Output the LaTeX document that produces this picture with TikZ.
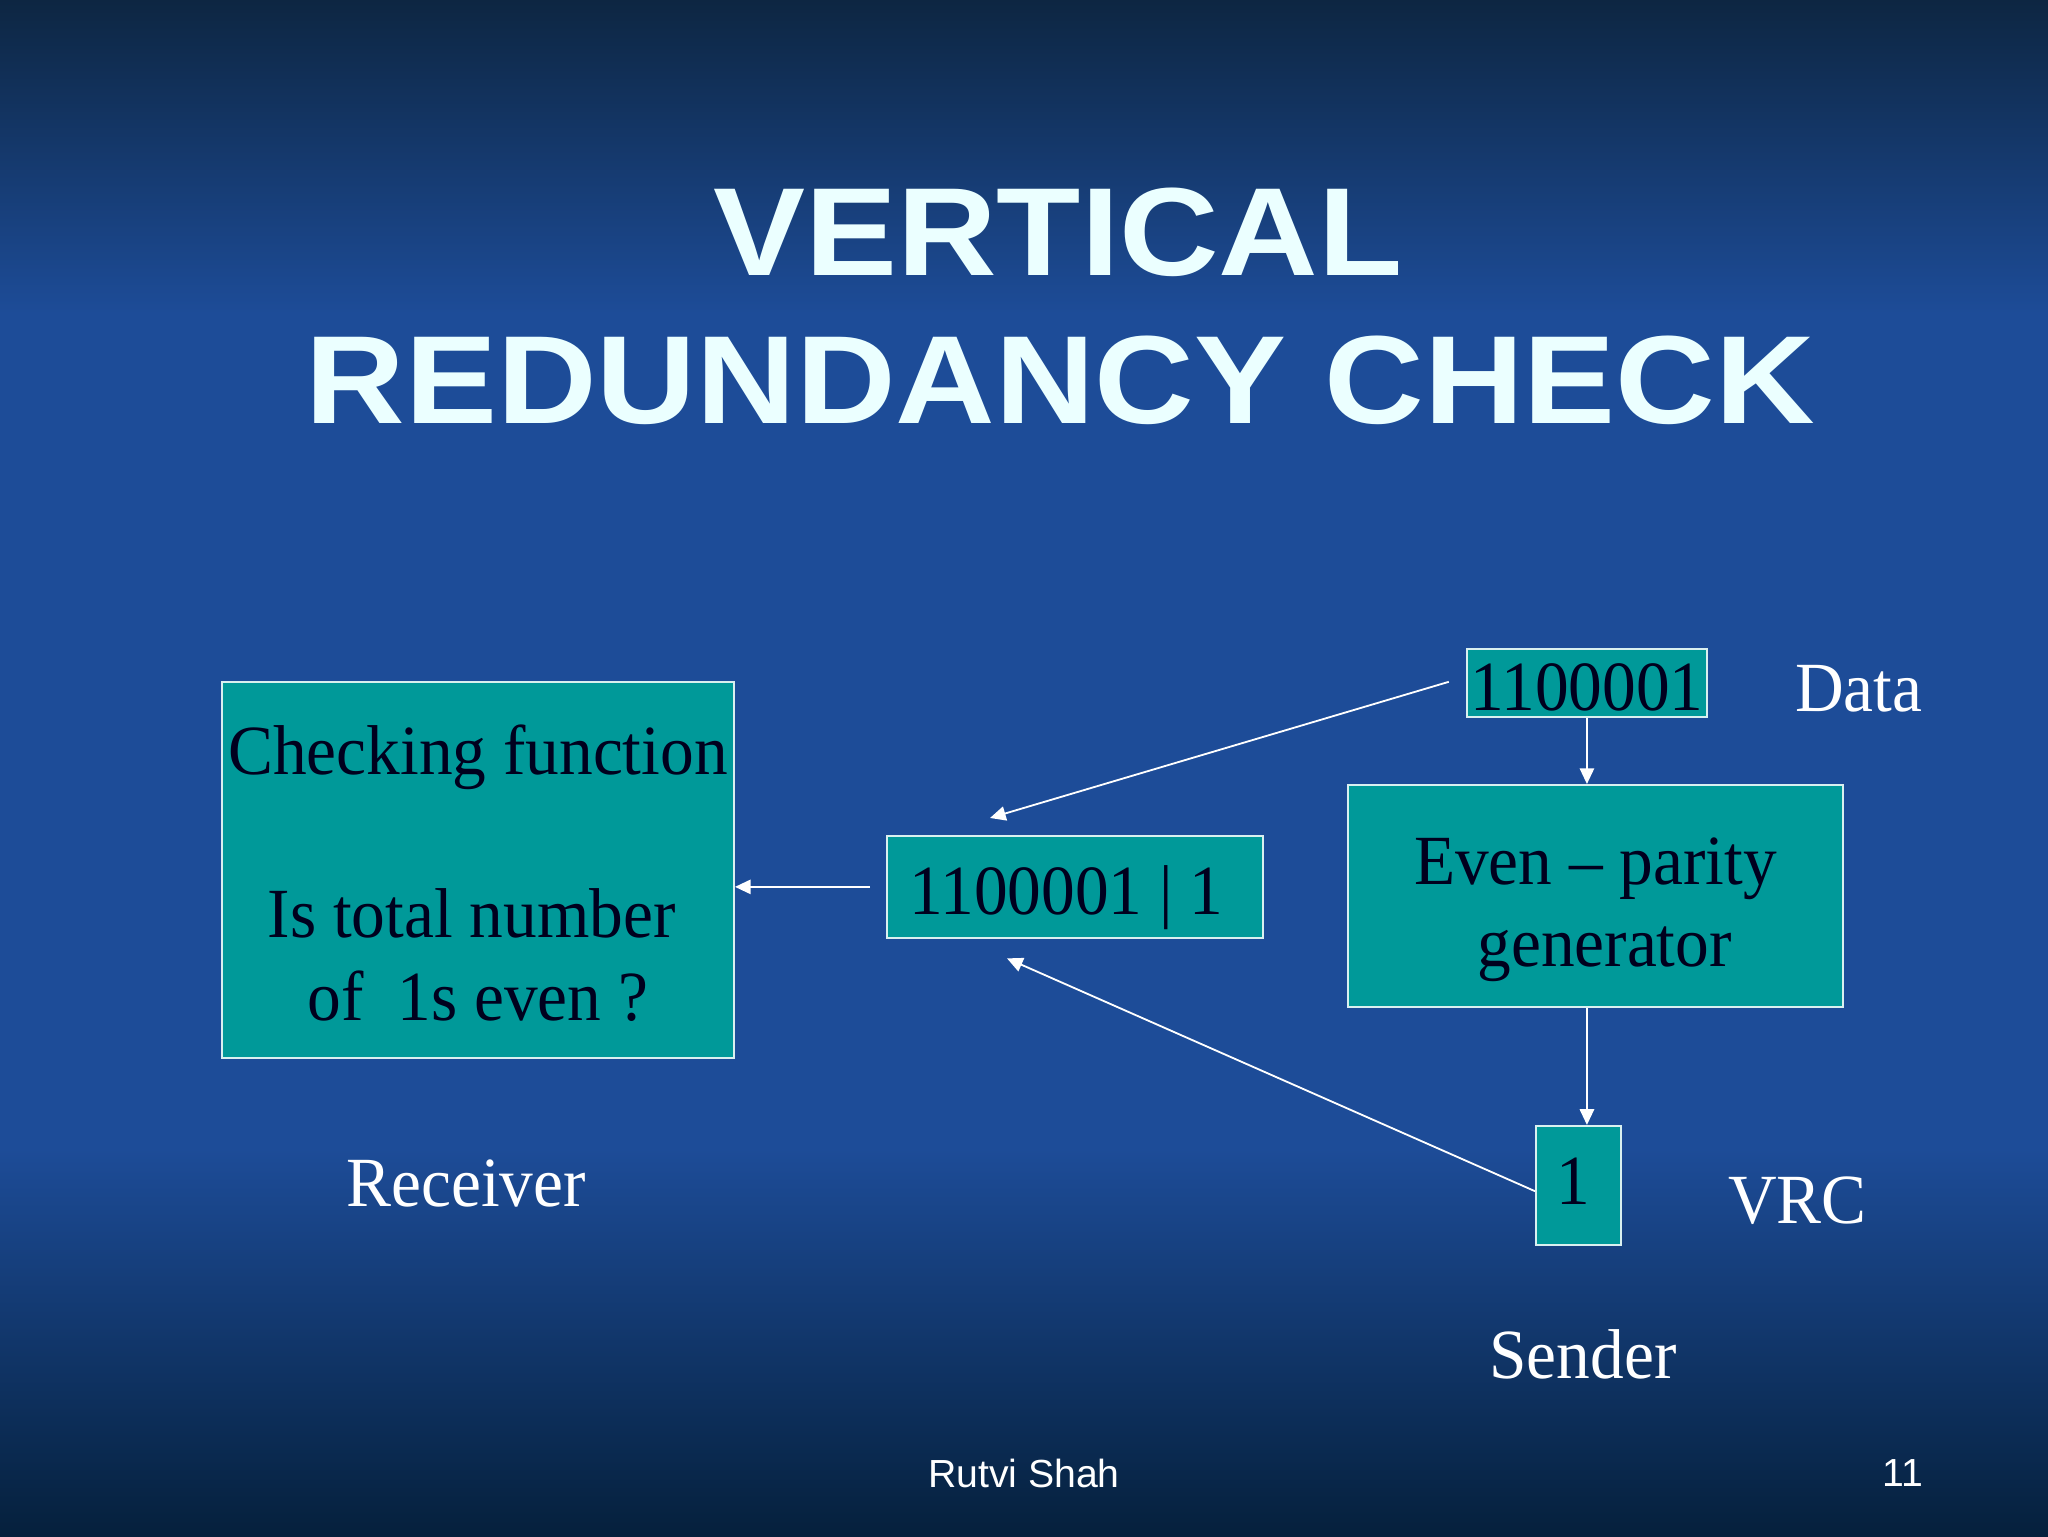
\documentclass[tikz,border=0pt]{standalone}
\usepackage{fontspec}
\setmainfont{Liberation Serif}
\newfontfamily\bodyfont{Liberation Serif}[FakeStretch=0.955,Ligatures=TeX]
\newfontfamily\arialfont{Liberation Sans}
\usetikzlibrary{arrows.meta,calc}
\definecolor{bgtop}{RGB}{13,38,66}
\definecolor{bgmid}{RGB}{29,76,152}
\definecolor{bgbot}{RGB}{5,32,60}
\definecolor{tealbox}{RGB}{0,153,153}
\definecolor{titlecol}{RGB}{235,255,255}
\definecolor{boxtext}{RGB}{0,0,30}
\begin{document}
\begin{tikzpicture}[x=1pt,y=-1pt,
  box/.style={draw=white!85!tealbox, line width=1.5pt, fill=tealbox, inner sep=0pt,
              text=boxtext, font=\bodyfont\fontsize{54}{63}\selectfont, align=center,
              text depth=0pt},
  lbl/.style={text=white, font=\bodyfont\fontsize{54}{60}\selectfont, inner sep=0pt},
  foot/.style={text=white, font=\arialfont\fontsize{30}{30}\selectfont, inner sep=0pt},
  ttl/.style={text=titlecol, font=\arialfont\bfseries\fontsize{96}{96}\selectfont, inner sep=0pt},
  arr/.style={draw=white, line width=1.4pt, -{Triangle[length=12pt,width=11pt]}}
]
\useasboundingbox (0,0) rectangle (1568,1176);
% background
\shade[top color=bgtop, bottom color=bgmid] (0,0) rectangle (1568,240);
\fill[bgmid] (0,239) rectangle (1568,880);
\shade[top color=bgmid, bottom color=bgbot] (0,879) rectangle (1568,1176);

% title
\node[ttl] (t1) at (810,178) {\scalebox{1.1}[1]{VERTICAL}};
\node[ttl] (t2) at (812,291) {\scalebox{1.1}[1]{REDUNDANCY CHECK}};

% boxes
\node[box, minimum width=392pt, minimum height=288pt, text height=230pt] (chk) at (366,666)
  {Checking function\\[62pt]\hspace*{-10pt}Is total number\\of\ \ 1s even ?};
\node[box, minimum width=288pt, minimum height=78pt, text height=43pt] (msg) at (823,679)
  {\hspace*{-13pt}1100001 | 1};
\node[box, minimum width=184pt, minimum height=52pt, text height=42pt] (data) at (1215,523)
  {1100001};
\node[box, minimum width=379pt, minimum height=170pt, text height=108pt] (par) at (1221.5,686)
  {Even – parity\\\hspace*{14pt}generator};
\node[box, minimum width=65pt, minimum height=91pt, text height=30pt] (vrc) at (1208.5,907.5)
  {\hspace*{-8pt}1};

% labels
\node[lbl] (ldata) at (1423,527) {Data};
\node[lbl] (lrec) at (357,906) {Receiver};
\node[lbl] (lvrc) at (1376,919) {VRC};
\node[lbl] (lsend) at (1212,1037) {Sender};
\node[foot] (author) at (784,1128) {Rutvi Shah};
\node[foot] (page) at (1457,1128) {11};

% connectors
\coordinate (a1s) at ($(data.west)+(-13,-1)$);
\coordinate (a1e) at ($(msg.north)+(-65,-13)$);
\coordinate (a2s) at ($(vrc.west)+(0,4.5)$);
\coordinate (a2e) at ($(msg.south)+(-52,15)$);
\coordinate (a3s) at ($(msg.west)+(-12,0)$);
\draw[arr] (a1s) -- (a1e);
\draw[arr] (a2s) -- (a2e);
\draw[arr] (a3s) -- (chk.east |- msg.west);
\draw[arr] (data.south) -- (data.south |- par.north);
\draw[arr] (par.south -| data.south) -- (vrc.north -| data.south);
\end{tikzpicture}
\end{document}
